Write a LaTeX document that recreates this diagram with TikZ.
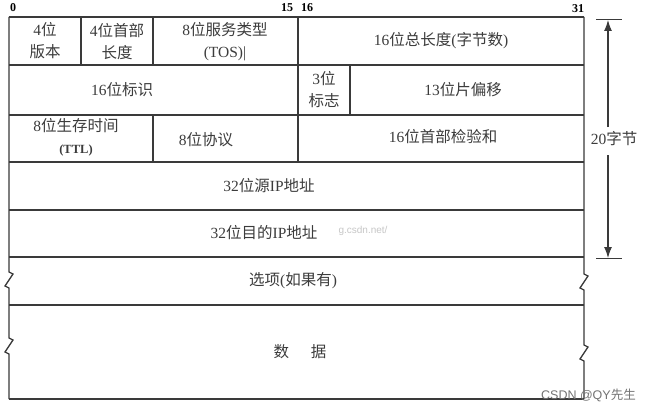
\documentclass[tikz,border=0pt]{standalone}
\usepackage{fontspec}
\setmainfont{Liberation Serif}
\newfontfamily\cjk{Noto Sans CJK SC}
\newfontfamily\wmsans{Liberation Sans}
\usetikzlibrary{arrows.meta}
\newcommand\zh[1]{{\cjk #1}}
\definecolor{lin}{HTML}{3A3A3A}
\definecolor{txt}{HTML}{3C3C3C}
\tikzset{
  fld/.style={text=txt, align=center, inner sep=0pt, font=\fontsize{15.5}{22}\selectfont},
  bitno/.style={text=black, inner sep=0pt, font=\fontsize{12}{12}\selectfont\bfseries},
  grid/.style={draw=lin, line width=1.3pt},
  tick/.style={draw=lin, line width=1pt},
  meas/.style={draw=lin, line width=1.1pt, -{Latex[length=11pt,width=8pt]}}
}
\begin{document}
\begin{tikzpicture}[x=1pt,y=-1pt]
\useasboundingbox[fill=white] (0,0) rectangle (651,412);
% table lines
\draw[grid] (9,17) -- (584,17);
\foreach \yy in {65,115,162,210,257,305} \draw[grid] (9,\yy) -- (584,\yy);
\draw[grid] (9,399) -- (584,399);
\draw[grid] (81,17) -- (81,65);
\draw[grid] (153,17) -- (153,65);
\draw[grid] (298,17) -- (298,162);
\draw[grid] (350,65) -- (350,115);
\draw[grid] (153,115) -- (153,162);
% outer edges with break marks
\draw[grid] (9,17) -- (9,272) -- (13,274) -- (5,286) -- (9,288) -- (9,338) -- (13,340) -- (5,352) -- (9,354) -- (9,399);
\draw[grid] (584,17) -- (584,274) -- (588,276) -- (580,288) -- (584,290) -- (584,345) -- (588,347) -- (580,359) -- (584,361) -- (584,399);
% bit numbers
\node[bitno] (b0) at (13,8) {0};
\node[bitno] (b15) at (287,8) {15};
\node[bitno] (b16) at (307,8) {16};
\node[bitno] (b31) at (578,9) {31};
% fields
\node[fld] (ver) at (45,41) {4\zh{位}\\\zh{版本}};
\node[fld] (ihl) at (117,42) {4\zh{位首部}\\\zh{长度}};
\node[fld] (tos) at (225,42) {8\zh{位服务类型}\\(TOS)|};
\node[fld] (totlen) at (441,41) {16\zh{位总长度}(\zh{字节数})};
\node[fld] (ident) at (122,90) {16\zh{位标识}};
\node[fld] (flags) at (324,90) {3\zh{位}\\\zh{标志}};
\node[fld] (frag) at (463,90) {13\zh{位片偏移}};
\node[fld] (ttl) at (76,137) {8\zh{位生存时间}\\{\bfseries\fontsize{12.5}{12.5}\selectfont (TTL)}};
\node[fld] (proto) at (206,140) {8\zh{位协议}};
\node[fld] (csum) at (443,137) {16\zh{位首部检验和}};
\node[fld] (src) at (269,186) {32\zh{位源}IP\zh{地址}};
\node[fld] (dst) at (264,233) {32\zh{位目的}IP\zh{地址}};
\node[fld] (opt) at (293,281) {\zh{选项}(\zh{如果有})};
\node[fld] (data) at (300,352) {\zh{数}\hspace{22pt}\zh{据}};
% length measure
\coordinate (mtop) at (608,20);
\coordinate (mbot) at (608,258);
\coordinate (mup) at (608,127);
\coordinate (mdn) at (608,155);
\draw[tick] (596,20) -- (622,20);
\draw[tick] (596,258) -- (622,258);
\node[fld] (len) at (614,139) {20\zh{字节}};
\draw[meas] (mup) -- (mtop);
\draw[meas] (mdn) -- (mbot);
% watermarks
\node[text=black!22, inner sep=0pt, font=\wmsans\fontsize{10}{10}\selectfont] (wm1) at (363,231) {g.csdn.net/};
\node[text=black!55, inner sep=0pt, font=\wmsans\fontsize{12.5}{12.5}\selectfont, anchor=east] (wm2) at (636,395) {CSDN @QY\zh{先生}};
\end{tikzpicture}
\end{document}
